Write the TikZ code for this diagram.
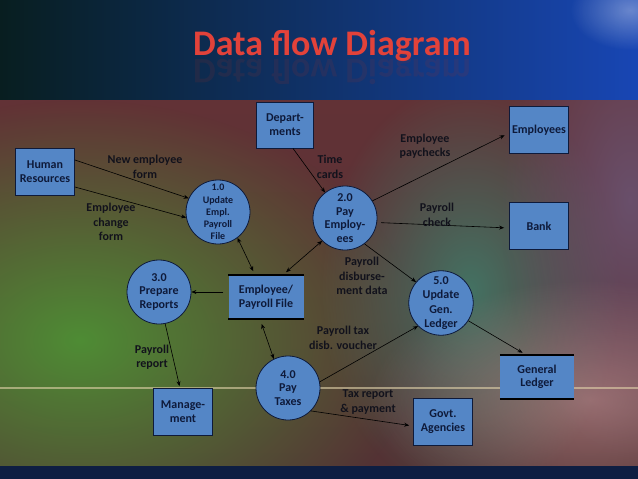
\documentclass[tikz,border=0pt]{standalone}
\usepackage{fontspec}
\setmainfont{Carlito}
\usetikzlibrary{arrows.meta,fadings}
\definecolor{procblue}{RGB}{84,134,198}
\definecolor{inkblue}{RGB}{14,26,58}
\definecolor{labelink}{RGB}{18,18,28}
\definecolor{titlered}{RGB}{226,66,58}
\definecolor{skyleft}{RGB}{8,30,32}
\definecolor{skymid}{RGB}{10,22,70}
\definecolor{skyright}{RGB}{24,70,180}
\definecolor{maroontop}{RGB}{98,50,54}
\definecolor{maroonbot}{RGB}{84,50,52}
\definecolor{glowgreen}{RGB}{78,145,52}
\definecolor{glowteal}{RGB}{62,130,110}
\definecolor{glowviolet}{RGB}{110,92,130}
\definecolor{glowpink}{RGB}{215,165,165}
\definecolor{lightline}{RGB}{225,210,170}
\definecolor{footnavy}{RGB}{14,30,66}
\tikzfading[name=softspot, inner color=transparent!0, outer color=transparent!100]

\begin{document}
\begin{tikzpicture}[x=1pt,y=-1pt,
  proc/.style={circle, draw=inkblue, thick, fill=procblue, text=inkblue, minimum size=64pt, inner sep=0pt, align=center, font=\fontsize{12}{13.5}\selectfont\bfseries},
  entity/.style={rectangle, draw=inkblue, thick, fill=procblue, text=inkblue, minimum width=59pt, minimum height=47pt, inner sep=1pt, align=center, font=\fontsize{12}{14}\selectfont\bfseries},
  datastore/.style={rectangle, fill=procblue, text=inkblue, minimum width=75pt, minimum height=44pt, inner sep=1pt, align=center, font=\fontsize{12}{13.5}\selectfont\bfseries},
  flowlabel/.style={align=center, text=labelink, inner sep=0pt, font=\fontsize{12}{14.5}\selectfont\bfseries},
  flow/.style={-{Stealth[length=5pt,width=4pt]}, black, semithick},
  twoway/.style={{Stealth[length=5pt,width=4pt]}-{Stealth[length=5pt,width=4pt]}, black, semithick}]

  \useasboundingbox (0,0) rectangle (638,479);

  % backdrop
  \shade[left color=skyleft, middle color=skymid, right color=skyright] (0,0) rectangle (638,100);
  \fill[white, path fading=softspot, opacity=.35] (630,10) ellipse (60 and 40);
  \begin{scope}
    \clip (0,100) rectangle (638,466);
    \shade[top color=maroontop, bottom color=maroonbot] (0,100) rectangle (638,466);
    \fill[glowgreen, path fading=softspot, opacity=.95] (80,340) ellipse (340 and 240);
    \fill[glowteal, path fading=softspot, opacity=.8] (470,290) ellipse (150 and 210);
    \fill[glowviolet, path fading=softspot, opacity=.7] (630,200) ellipse (130 and 260);
    \fill[glowpink, path fading=softspot, opacity=.5] (590,400) ellipse (220 and 120);
    \draw[lightline, opacity=.6, line width=1.5pt] (0,388) -- (638,388);
  \end{scope}
  \fill[footnavy] (0,466) rectangle (638,479);

  % title
  \node[anchor=base, text=titlered, font=\fontsize{36}{40}\selectfont\bfseries] (title) at (332,55) {Data flow Diagram};
  \node[anchor=base, yscale=-1, text=titlered!70!black, text opacity=.14, font=\fontsize{36}{40}\selectfont\bfseries] (mirror) at (332,59) {Data flow Diagram};

  % entities, processes, stores
  \node[entity] (hr) at (45,172) {Human\\Resources};
  \node[entity, minimum width=57pt, minimum height=46pt] (depts) at (285,125) {Depart-\\ments};
  \node[entity] (emp) at (539,130) {Employees};
  \node[entity] (bank) at (539,226) {Bank};
  \node[entity] (mgmt) at (183,412) {Manage-\\ment};
  \node[entity] (govt) at (443,422) {Govt.\\Agencies};

  \node[proc, font=\fontsize{10}{12.2}\selectfont\bfseries] (p1) at (218,212) {1.0\\Update\\Empl.\\Payroll\\File};
  \node[proc] (p2) at (345,218) {2.0\\Pay\\Employ-\\ees};
  \node[proc] (p3) at (159,292) {3.0\\Prepare\\Reports};
  \node[proc] (p4) at (288,388) {4.0\\Pay\\Taxes};
  \node[proc, font=\fontsize{12}{14.5}\selectfont\bfseries] (p5) at (441,303) {5.0\\Update\\Gen.\\Ledger};

  \node[datastore] (payfile) at (266,297) {Employee/\\Payroll File};
  \node[datastore, minimum width=74pt] (ledger) at (537,377) {General\\Ledger};
  \foreach \s in {payfile,ledger}{
    \draw[black, line width=2pt] (\s.north west) -- (\s.north east);
    \draw[black, line width=2pt] (\s.south west) -- (\s.south east);
  }

  % flows
  \draw[flow] ([yshift=12pt]hr.east) -- (p1.155);
  \draw[flow] ([yshift=-15pt]hr.east) -- (p1.190);
  \draw[flow] ([xshift=8pt]depts.south) -- (p2.128);
  \draw[flow, shorten >=5pt] (p2.32) -- ([yshift=-3pt]emp.west);
  \draw[flow, shorten <=4pt, shorten >=5pt] (p2.-8) -- ([yshift=-2pt]bank.west);
  \draw[twoway, shorten >=4pt] (p1.-53) -- ([xshift=-11pt]payfile.north);
  \draw[twoway, shorten >=4pt] (p2.225) -- ([xshift=17pt]payfile.north);
  \draw[flow, shorten <=5pt] ([yshift=5pt]payfile.west) -- (p3.east);
  \draw[twoway, shorten <=5pt] ([xshift=-6pt]payfile.south) -- (p4.116);
  \draw[flow, shorten >=2pt] (p3.-79) -- ([xshift=-3pt]mgmt.north);
  \draw[flow] (p2.-53) -- (p5.140);
  \draw[flow] (p4.11) -- (p5.225);
  \draw[flow, shorten >=4pt] (p4.-45) -- ([yshift=-4pt]govt.west);
  \draw[flow, shorten >=4pt] (p5.-33) -- ([xshift=-11pt]ledger.north);

  % flow labels
  \node[flowlabel] (newform) at (145,167) {New employee\\form};
  \node[flowlabel] (changeform) at (111,222) {Employee\\change\\form};
  \node[flowlabel] (timecards) at (330,167) {Time\\cards};
  \node[flowlabel] (paychecks) at (425,146) {Employee\\paychecks};
  \node[flowlabel] (paycheck) at (437,215) {Payroll\\check};
  \node[flowlabel] (disburse) at (362,276) {Payroll\\disburse-\\ment data};
  \node[flowlabel] (taxvoucher) at (343,338) {Payroll tax\\disb. voucher};
  \node[flowlabel] (report) at (152,357) {Payroll\\report};
  \node[flowlabel] (taxpay) at (368,402) {Tax report\\\& payment};
\end{tikzpicture}
\end{document}
